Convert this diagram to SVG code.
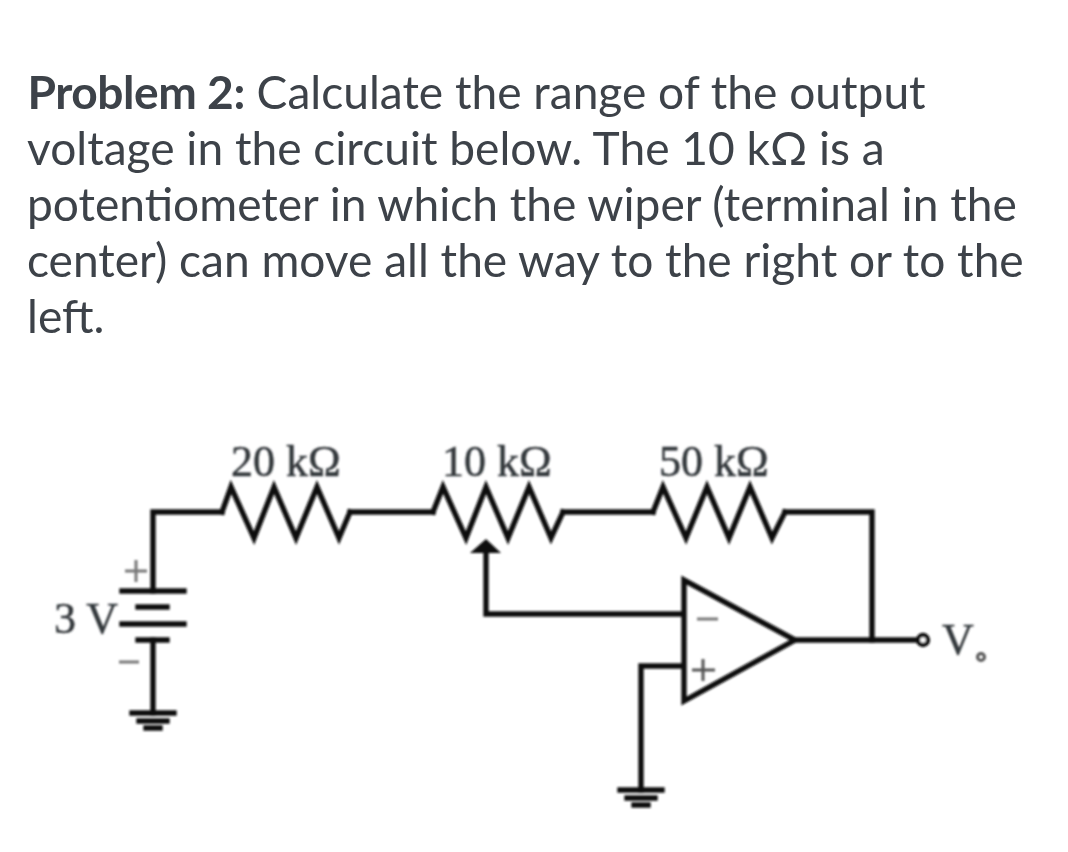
<svg xmlns="http://www.w3.org/2000/svg" width="1068" height="852" viewBox="0 0 1068 852">
<style>
.t{font-family:Lato,"Liberation Sans",sans-serif;font-size:46.1px;fill:#3c4248}
.b{font-weight:700;letter-spacing:-0.45px}
.l{font-family:"Liberation Serif",serif;font-size:44px;fill:#33373b;stroke:#33373b;stroke-width:.5}
.w{fill:none;stroke:#111;stroke-width:5.4;stroke-linejoin:miter;stroke-linecap:square}
.p{fill:none;stroke:#777;stroke-width:3}
</style>
<defs>
<filter id="s" x="-5%" y="-5%" width="110%" height="110%"><feGaussianBlur stdDeviation="0.8"/></filter>
<filter id="f" x="-5%" y="-5%" width="110%" height="110%"><feGaussianBlur stdDeviation="0.4"/></filter>
<g id="gnd"><path class="w" d="M-21 0H21M-14 8H14M-7 15H7"/></g>
</defs>
<rect width="1068" height="852" fill="#fff"/>
<g id="problem-text" filter="url(#f)">
<text class="t" x="27.5" y="109"><tspan class="b">Problem 2:</tspan> Calculate the range of the output</text>
<text class="t" x="27" y="165">voltage in the circuit below. The 10 kΩ is a</text>
<text class="t" x="27" y="221">potentiometer in which the wiper (terminal in the</text>
<text class="t" x="27" y="277">center) can move all the way to the right or to the</text>
<text class="t" x="27" y="333">left.</text>
</g>
<g filter="url(#s)">
<g id="connectors">
<path class="w" d="M222 512H153V591"/>
<path class="w" d="M350 512H433"/>
<path class="w" d="M563 512H653"/>
<path class="w" d="M785 512H872V640"/>
<path class="w" d="M153 640V713"/>
<path class="w" d="M486 552V614H683"/>
<path class="w" d="M683 666H641V790"/>
<path class="w" d="M795 640H918"/>
</g>
<g id="r20"><path class="w" d="M222 512L231 487L254 538L274 487L296 538L317 487L339 538L350 512"/><text class="l" x="231" y="476">20 kΩ</text></g>
<g id="r10"><path class="w" d="M433 512L443 487L466 538L486 487L508 538L529 487L551 538L563 512"/><text class="l" x="442" y="476">10 kΩ</text>
<path d="M486 539L470 553H501Z" fill="#111"/></g>
<g id="r50"><path class="w" d="M653 512L663 487L686 538L707 487L729 538L750 487L772 538L785 512"/><text class="l" x="659" y="476">50 kΩ</text></g>
<g id="battery">
<path class="w" d="M122 591H184M122 624H184M138 607H167M138 640H167"/>
<path class="p" d="M125 571H147M136 560V582M119 662H139"/>
<text class="l" x="54" y="633">3 V</text>
</g>
<use id="ground-left" href="#gnd" x="153" y="713"/>
<use id="ground-right" href="#gnd" x="641" y="790"/>
<g id="opamp">
<path class="w" d="M684 580V701L795 640Z"/>
<path class="p" d="M697 619H718"/>
<path class="p" style="stroke:#555" d="M692 670H715M703 659V681"/>
</g>
<g id="output">
<circle cx="923" cy="640" r="5" fill="#fff" stroke="#111" stroke-width="4.4"/>
<text class="l" x="942" y="654">V</text>
<circle cx="981" cy="657" r="3.5" fill="none" stroke="#555" stroke-width="3"/>
</g>
</g>
</svg>
